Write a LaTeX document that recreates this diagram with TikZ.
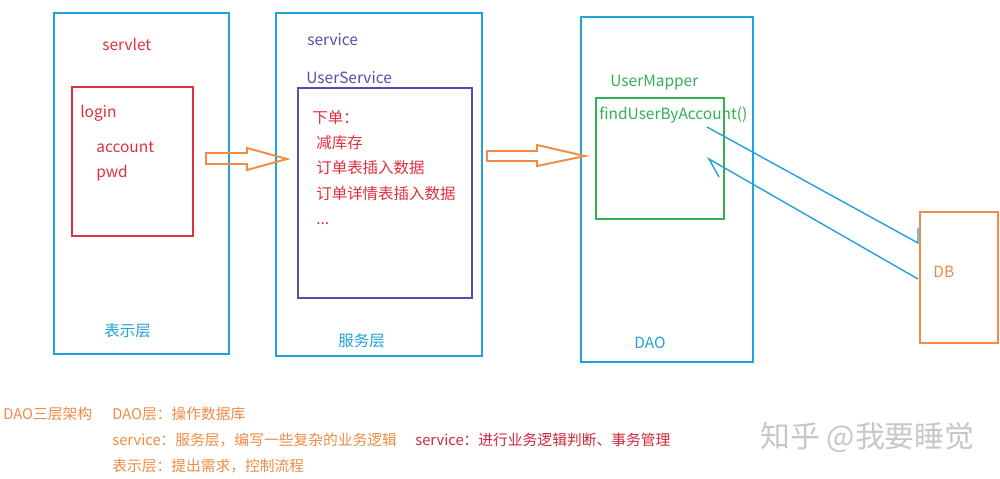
\documentclass[tikz,border=0pt]{standalone}
\usepackage{fontspec}
\setmainfont{Noto Sans CJK SC}
\usetikzlibrary{positioning}

\definecolor{layercyan}{RGB}{32,162,220}
\definecolor{loginred}{RGB}{224,48,64}
\definecolor{servpurple}{RGB}{80,78,176}
\definecolor{mapgreen}{RGB}{52,176,84}
\definecolor{dborange}{RGB}{240,140,70}
\definecolor{notered}{RGB}{208,40,60}

\begin{document}
\begin{tikzpicture}[x=0.02cm,y=-0.02cm,
    layerbox/.style={draw=layercyan,line width=1.1pt},
    innerbox/.style={line width=1.1pt},
    txt/.style={anchor=west,inner sep=0pt,font=\fontsize{8.8}{10}\selectfont},
    note/.style={anchor=west,inner sep=0pt,font=\fontsize{8.4}{10}\selectfont},
    hollow/.style={draw=dborange,line width=1.1pt,line join=miter},
    link/.style={draw=layercyan,line width=0.8pt}]
    \useasboundingbox[fill=white] (0,0) rectangle (1000,479);

    % Draw layer boxes
    \draw[layerbox] (54,13) rectangle (229,354);
    \draw[layerbox] (276,13) rectangle (482,356);
    \draw[layerbox] (581,17) rectangle (753,362);
    \draw[innerbox,draw=loginred] (72,87) rectangle (193,236);
    \draw[innerbox,draw=servpurple] (298,88) rectangle (472,298);
    \draw[innerbox,draw=mapgreen] (596,98) rectangle (724,219);
    \draw[innerbox,draw=dborange] (920,212) rectangle (998,343);

    % Draw hollow arrows
    \draw[hollow] (206,153) -- (247,153) -- (247,148) -- (287,159) -- (247,170) -- (247,164) -- (206,164) -- cycle;
    \draw[hollow] (487,151) -- (537,151) -- (537,145) -- (585,156) -- (537,166) -- (537,161) -- (487,161) -- cycle;

    % Presentation layer
    \node[txt,text=loginred] (servlet) at (102,44) {servlet};
    \node[txt,text=loginred] (login) at (80,113) {login};
    \node[txt,text=loginred] (account) at (96,147) {account};
    \node[txt,text=loginred] (pwd) at (96,173) {pwd};
    \node[txt,text=layercyan] (web) at (104,331) {表示层};

    % Service layer
    \node[txt,text=servpurple] (service) at (307,40) {service};
    \node[txt,text=servpurple] (usersrv) at (306,78) {UserService};
    \node[txt,text=loginred] (order) at (312,118) {下单：};
    \node[txt,text=loginred] (stock) at (316,143) {减库存};
    \node[txt,text=loginred] (ins1) at (316,168) {订单表插入数据};
    \node[txt,text=loginred] (ins2) at (316,194) {订单详情表插入数据};
    \node[txt,text=loginred] (more) at (316,224) {...};
    \node[txt,text=layercyan] (srv) at (338,341) {服务层};

    % DAO layer
    \node[txt,text=mapgreen] (mapper) at (610,83) {UserMapper};
    \node[txt,text=mapgreen] (find) at (599,115) {findUserByAccount()};
    \node[txt,text=layercyan] (dao) at (634,343) {DAO};
    \node[txt,text=dborange] (db) at (933,272) {DB};

    % Query and result
    \coordinate (q1) at (707,127);
    \coordinate (q2) at (918,243);
    \coordinate (r1) at (918,279);
    \coordinate (r2) at (709,159);
    \draw[link] (q1) -- (q2) -- ++(0,-15);
    \draw[link] (r1) -- (r2) -- ++(10,18);

    % Notes
    \node[note,text=dborange] (n0) at (3,414) {DAO三层架构};
    \node[note,text=dborange] (n1) at (112,414) {DAO层：操作数据库};
    \node[note,text=dborange] (n2) at (112,440) {service：服务层，编写一些复杂的业务逻辑};
    \node[note,text=notered] (n3) at (415,440) {service：进行业务逻辑判断、事务管理};
    \node[note,text=dborange] (n4) at (112,466) {表示层：提出需求，控制流程};
    \node[txt,text=black!22,font=\fontsize{17}{18}\selectfont] (mark) at (760,438) {知乎 @我要睡觉};
\end{tikzpicture}
\end{document}
